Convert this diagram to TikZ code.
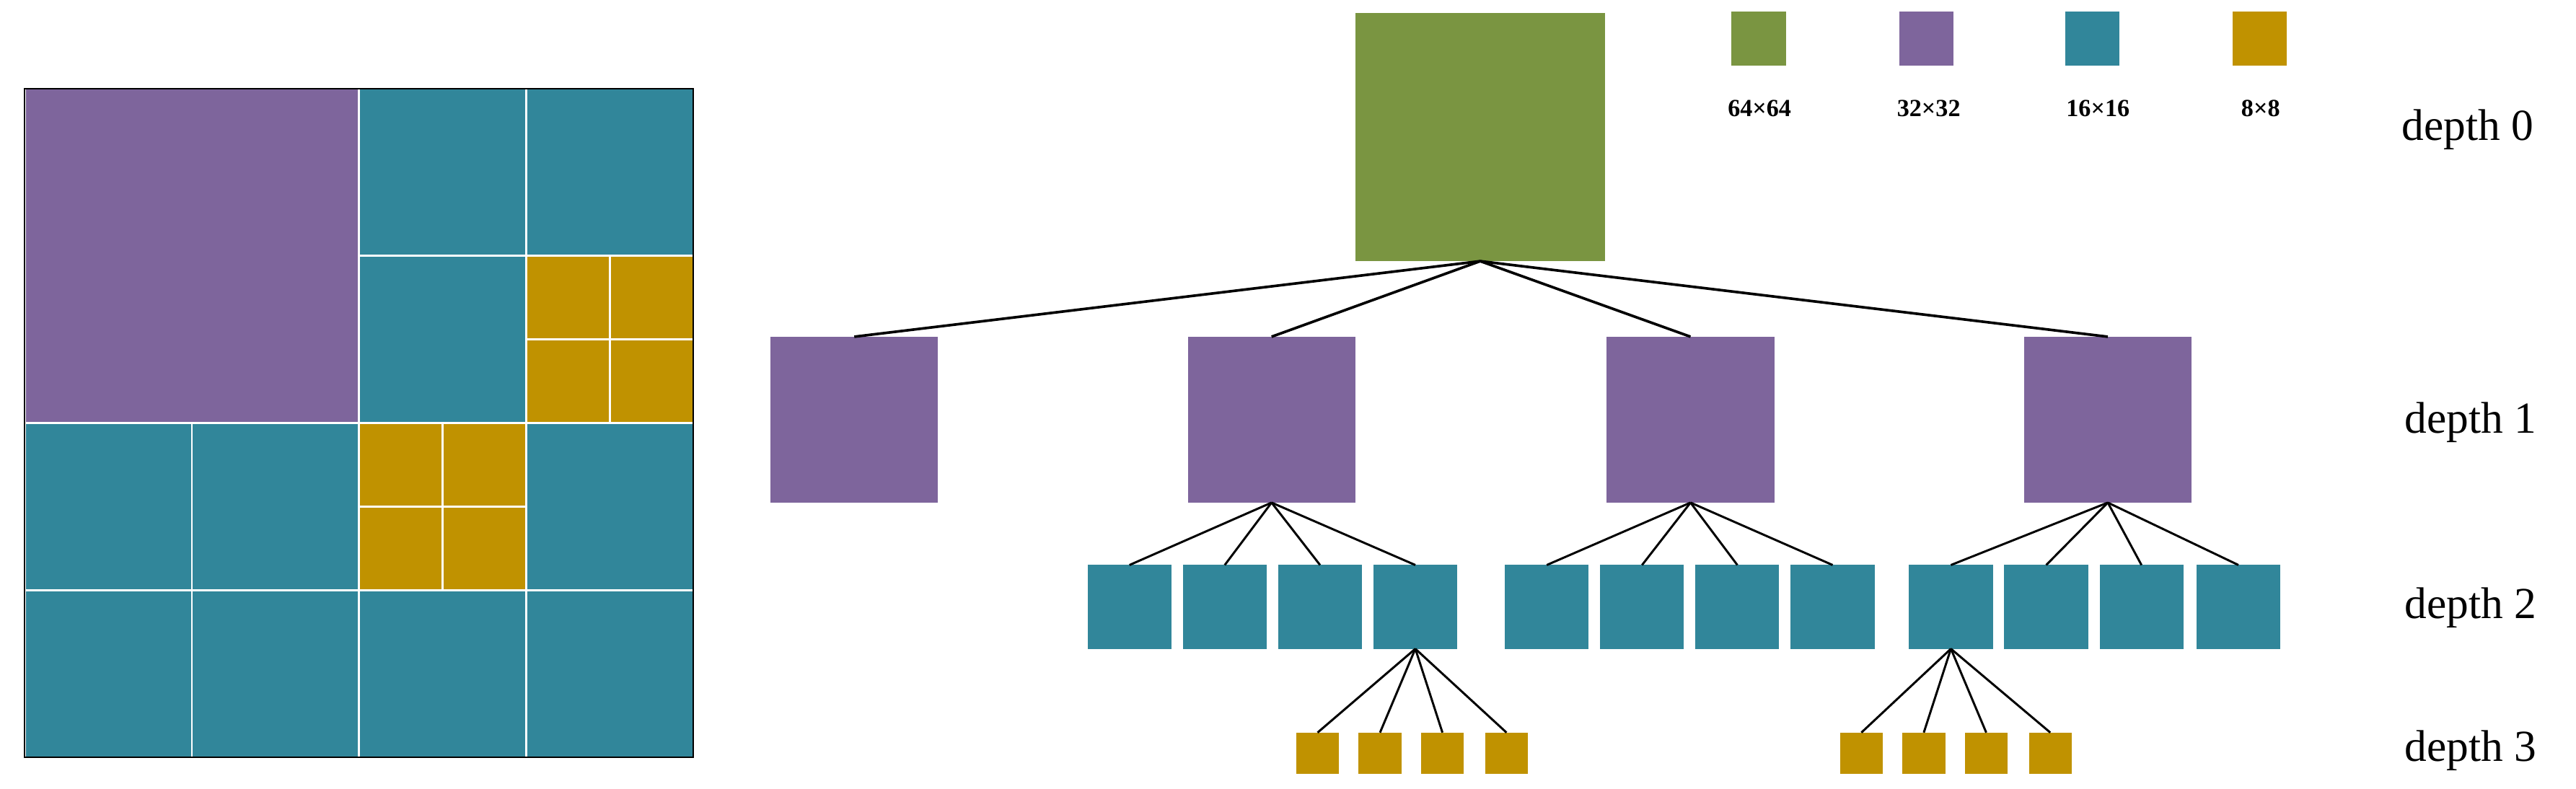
\documentclass[tikz,border=0pt]{standalone}
\usepackage{fontspec}
\setmainfont{Liberation Serif}
\definecolor{cgreen}{RGB}{122,149,65}
\definecolor{cpurple}{RGB}{126,101,156}
\definecolor{cteal}{RGB}{49,134,154}
\definecolor{cyel}{RGB}{192,146,0}
\begin{document}
\begin{tikzpicture}[x=1pt,y=-1pt,
  bx/.style={inner sep=0,outer sep=0,anchor=north west,draw=none},
  edge/.style={line width=1.6pt},
  dlab/.style={font=\fontsize{27}{30}\selectfont},
  llab/.style={font=\bfseries\fontsize{15}{17}\selectfont}]
\useasboundingbox (0,0) rectangle (1568,480);
% grid
\def\c{101.75}
\foreach \i/\j/\col in {2/0/cteal,3/0/cteal,2/1/cteal,0/2/cteal,1/2/cteal,3/2/cteal,0/3/cteal,1/3/cteal,2/3/cteal,3/3/cteal}{
  \fill[\col,draw=white,line width=1.2pt] ({15+\i*\c},{54+\j*\c}) rectangle ++(\c,\c);}
\fill[cpurple,draw=white,line width=1.2pt] (15,54) rectangle ++({2*\c},{2*\c});
\foreach \i/\j in {3/1,2/2}{
  \foreach \a in {0,1}{\foreach \b in {0,1}{
    \fill[cyel,draw=white,line width=1.2pt] ({15+\i*\c+\a*\c/2},{54+\j*\c+\b*\c/2}) rectangle ++({\c/2},{\c/2});}}}
\draw[line width=0.8pt] (15,54) rectangle (422,461);
% root
\node[bx,fill=cgreen,minimum width=152,minimum height=151] (r) at (825,8) {};
% legend
\foreach \x/\col/\t/\cx in {1054/cgreen/64×64/1071,1156/cpurple/32×32/1174,1257/cteal/16×16/1277,1359/cyel/8×8/1376}{
  \node[bx,fill=\col,minimum width=33,minimum height=33] (l\x) at (\x,7) {};
  \node[llab] (t\x) at (\cx,66) {\t};}
% depth 1
\foreach \x [count=\k] in {469,723,978,1232}{
  \node[bx,fill=cpurple,minimum width=102,minimum height=101] (p\k) at (\x,205) {};
  \draw[edge] (r.south) -- (p\k.north);}
% depth 2
\foreach \x [count=\k] in {662,720,778,836,916,974,1032,1090,1162,1220,1278,1337}{
  \node[bx,fill=cteal,minimum width=51,minimum height=51] (q\k) at (\x,344) {};}
\foreach \k in {1,...,4}{\draw[edge,line width=1.3pt] (p2.south) -- (q\k.north);}
\foreach \k in {5,...,8}{\draw[edge,line width=1.3pt] (p3.south) -- (q\k.north);}
\foreach \k in {9,...,12}{\draw[edge,line width=1.3pt] (p4.south) -- (q\k.north);}
% depth 3
\foreach \x [count=\k] in {789,827,865,904,1120,1158,1196,1235}{
  \node[bx,fill=cyel,minimum width=26,minimum height=25] (s\k) at (\x,446) {};}
\foreach \k in {1,...,4}{\draw[edge,line width=1.3pt] (q4.south) -- (s\k.north);}
\foreach \k in {5,...,8}{\draw[edge,line width=1.3pt] (q9.south) -- (s\k.north);}
% depth labels
\node[dlab] (d0) at (1502,79) {depth 0};
\node[dlab] (d1) at (1504,257) {depth 1};
\node[dlab] (d2) at (1504,370) {depth 2};
\node[dlab] (d3) at (1504,457) {depth 3};
\end{tikzpicture}
\end{document}
